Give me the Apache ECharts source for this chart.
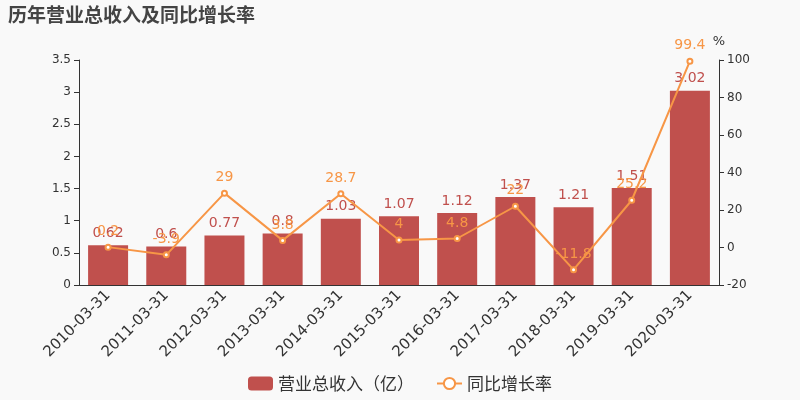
<!DOCTYPE html>
<html>
<head>
<meta charset="utf-8">
<script src="https://cdn.jsdelivr.net/npm/echarts@6/dist/echarts.min.js"></script>
<style>
html,body{margin:0;padding:0;background:#f9f9f9;}
#main{width:800px;height:400px;}
</style>
</head>
<body>
<div id="main"></div>
<script>
var dates = ['2010-03-31','2011-03-31','2012-03-31','2013-03-31','2014-03-31','2015-03-31','2016-03-31','2017-03-31','2018-03-31','2019-03-31','2020-03-31'];
var revenue = [0.62, 0.6, 0.77, 0.8, 1.03, 1.07, 1.12, 1.37, 1.21, 1.51, 3.02];
var growth = [0.2, -3.9, 29, 3.8, 28.7, 4, 4.8, 22, -11.8, 25.2, 99.4];

var myChart = echarts.init(document.getElementById('main'));
var font = 'DejaVu Sans, Noto Sans CJK SC, sans-serif';
var option = {
    backgroundColor: '#f9f9f9',
    textStyle: {fontFamily: font},
    title: {
        text: '历年营业总收入及同比增长率',
        left: 3,
        top: 0,
        textStyle: {fontSize: 19, fontWeight: 'bold', color: '#444', fontFamily: 'Noto Sans CJK SC'}
    },
    legend: {
        bottom: 3,
        itemWidth: 25,
        itemHeight: 14,
        itemGap: 22,
        textStyle: {fontSize: 17, color: '#333', fontFamily: 'Noto Sans CJK SC'},
        data: ['营业总收入（亿）', '同比增长率']
    },
    grid: {left: 79, right: 81, top: 60, bottom: 115},
    xAxis: {
        type: 'category',
        data: dates,
        axisTick: {show: false},
        axisLine: {lineStyle: {color: '#333'}},
        axisLabel: {rotate: 45, fontSize: 15, color: '#333', interval: 0, margin: 8}
    },
    yAxis: [{
        type: 'value',
        min: 0,
        max: 3.5,
        interval: 0.5,
        splitLine: {show: false},
        axisLine: {show: true, lineStyle: {color: '#333'}},
        axisTick: {show: true},
        axisLabel: {color: '#333', fontSize: 12}
    }, {
        type: 'value',
        name: '%',
        nameTextStyle: {color: '#333', fontSize: 13, padding: [0, 0, 0, 0]},
        nameGap: 12,
        min: -20,
        max: 100,
        interval: 20,
        splitLine: {show: false},
        axisLine: {show: true, lineStyle: {color: '#333'}},
        axisTick: {show: true},
        axisLabel: {color: '#333', fontSize: 12}
    }],
    series: [{
        name: '营业总收入（亿）',
        type: 'bar',
        data: revenue,
        barWidth: 40,
        itemStyle: {color: '#c0504d'},
        label: {show: true, position: 'top', color: '#c0504d', fontSize: 14}
    }, {
        name: '同比增长率',
        type: 'line',
        yAxisIndex: 1,
        data: growth,
        symbol: 'emptyCircle',
        symbolSize: 5,
        itemStyle: {color: '#f79646'},
        lineStyle: {color: '#f79646', width: 2},
        label: {show: true, position: 'top', color: '#f79646', fontSize: 14}
    }]
};
myChart.setOption(option);
window.addEventListener("resize", function () {myChart.resize(); })
</script>
</body>
</html>
